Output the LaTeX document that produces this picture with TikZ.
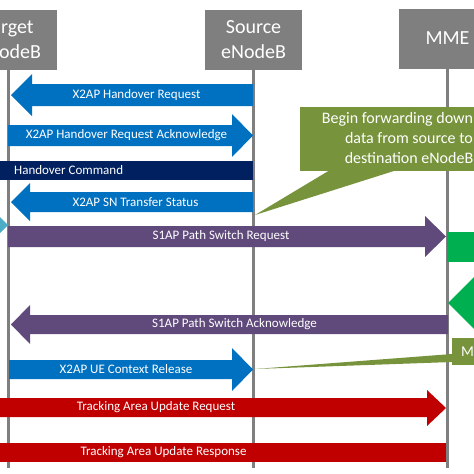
\documentclass[tikz,border=0pt]{standalone}
\usepackage{fontspec}
\setmainfont{Carlito}
\definecolor{ltegray}{RGB}{127,127,127}
\definecolor{x2blue}{RGB}{0,112,192}
\definecolor{cmdnavy}{RGB}{0,32,96}
\definecolor{s1purple}{RGB}{96,74,123}
\definecolor{taured}{RGB}{192,0,0}
\definecolor{gtpgreen}{RGB}{0,176,80}
\definecolor{noteolive}{RGB}{119,147,60}
\definecolor{cyantip}{RGB}{75,172,198}

\begin{document}
\begin{tikzpicture}[x=1pt, y=-1pt,
    hdr/.style={fill=ltegray, text=white, minimum width=97pt, minimum height=60pt,
      inner sep=0pt, align=center, font=\fontsize{20}{25}\selectfont},
    msg/.style={text=white, inner sep=0pt, font=\fontsize{13}{15}\selectfont},
    note/.style={text=white, inner sep=0pt, align=center, font=\fontsize{16}{20}\selectfont},
    lifeline/.style={ltegray, line width=2.5pt}]
    \useasboundingbox (0,0) rectangle (474,474);
    \clip (0,0) rectangle (474,474);
    % Entities
    \node[hdr] (tgt) at (8.5,40) {Target\\eNodeB};
    \node[hdr] (src) at (253.5,39.5) {Source\\eNodeB};
    \node[hdr] (mme) at (447.5,38.5) {MME};
    % Lifelines
    \draw[lifeline] (tgt.south) -- (tgt.south |- 0,468);
    \draw[lifeline] (src.south) -- (src.south |- 0,468);
    \draw[lifeline] (mme.south) -- (mme.south |- 0,468);
    % X2AP Handover Request (source -> target)
    \fill[x2blue] (253,84) -- (32,84) -- (32,74) -- (11,95) -- (32,116) -- (32,106) -- (253,106) -- cycle;
    \node[msg] (horeq) at (136.5,95) {X2AP Handover Request};
    % X2AP Handover Request Acknowledge (target -> source)
    \fill[x2blue] (8,125) -- (232,125) -- (232,114) -- (253,135.5) -- (232,157) -- (232,146) -- (8,146) -- cycle;
    \node[msg] (hoack) at (126.5,135.5) {X2AP Handover Request Acknowledge};
    % Handover Command (towards UE, off the left edge)
    \fill[cmdnavy] (-5,161) rectangle (253,180);
    \node[msg, anchor=west] (hocmd) at (14,170.5) {Handover Command};
    % X2AP SN Transfer Status
    \fill[x2blue] (253,192) -- (30,192) -- (30,183) -- (11,202) -- (30,221) -- (30,212) -- (253,212) -- cycle;
    \node[msg] (snstat) at (135.5,202) {X2AP SN Transfer Status};
    % tip of an arrow coming from the left
    \fill[cyantip] (-5,212) -- (8,225) -- (-5,238) -- cycle;
    % S1AP Path Switch Request (target -> MME)
    \fill[s1purple] (8,226) -- (425,226) -- (425,216) -- (446,236.5) -- (425,257) -- (425,247) -- (8,247) -- cycle;
    \node[msg] (psreq) at (221,236.5) {S1AP Path Switch Request};
    % green arrows on the MME side
    \fill[gtpgreen] (447,232) rectangle (480,262);
    \fill[gtpgreen] (448,303) -- (478,273) -- (478,333) -- cycle;
    % S1AP Path Switch Acknowledge (MME -> target)
    \fill[s1purple] (448,315) -- (30,315) -- (30,305) -- (11,324.5) -- (30,344) -- (30,334) -- (448,334) -- cycle;
    \node[msg] (psack) at (234.5,324.5) {S1AP Path Switch Acknowledge};
    % X2AP UE Context Release (target -> source)
    \fill[x2blue] (9,360) -- (232,360) -- (232,348) -- (253,369.5) -- (232,391) -- (232,379) -- (9,379) -- cycle;
    \node[msg] (ctxrel) at (126,369.5) {X2AP UE Context Release};
    % Tracking Area Update Request (UE -> MME)
    \fill[taured] (-5,398) -- (427,398) -- (427,390) -- (446,408) -- (427,426) -- (427,417) -- (-5,417) -- cycle;
    \node[msg] (taureq) at (156,407.5) {Tracking Area Update Request};
    % Tracking Area Update Response
    \fill[taured] (-5,443) rectangle (446,462);
    \node[msg] (tauresp) at (163.5,452.5) {Tracking Area Update Response};
    % Callouts
    \fill[noteolive] (300,107) rectangle (520,171);
    \fill[noteolive] (330,170) -- (255,215) -- (397,170) -- cycle;
    \node[note] (fwd) at (409,138) {Begin forwarding downlink\\data from source to\\destination eNodeB};
    \fill[noteolive] (452,338) rectangle (500,365);
    \fill[noteolive] (452,354) -- (255,369) -- (452,362) -- cycle;
    \node[note, anchor=west, font=\fontsize{15}{18}\selectfont] (mnote) at (461,351.5) {M};
\end{tikzpicture}
\end{document}
